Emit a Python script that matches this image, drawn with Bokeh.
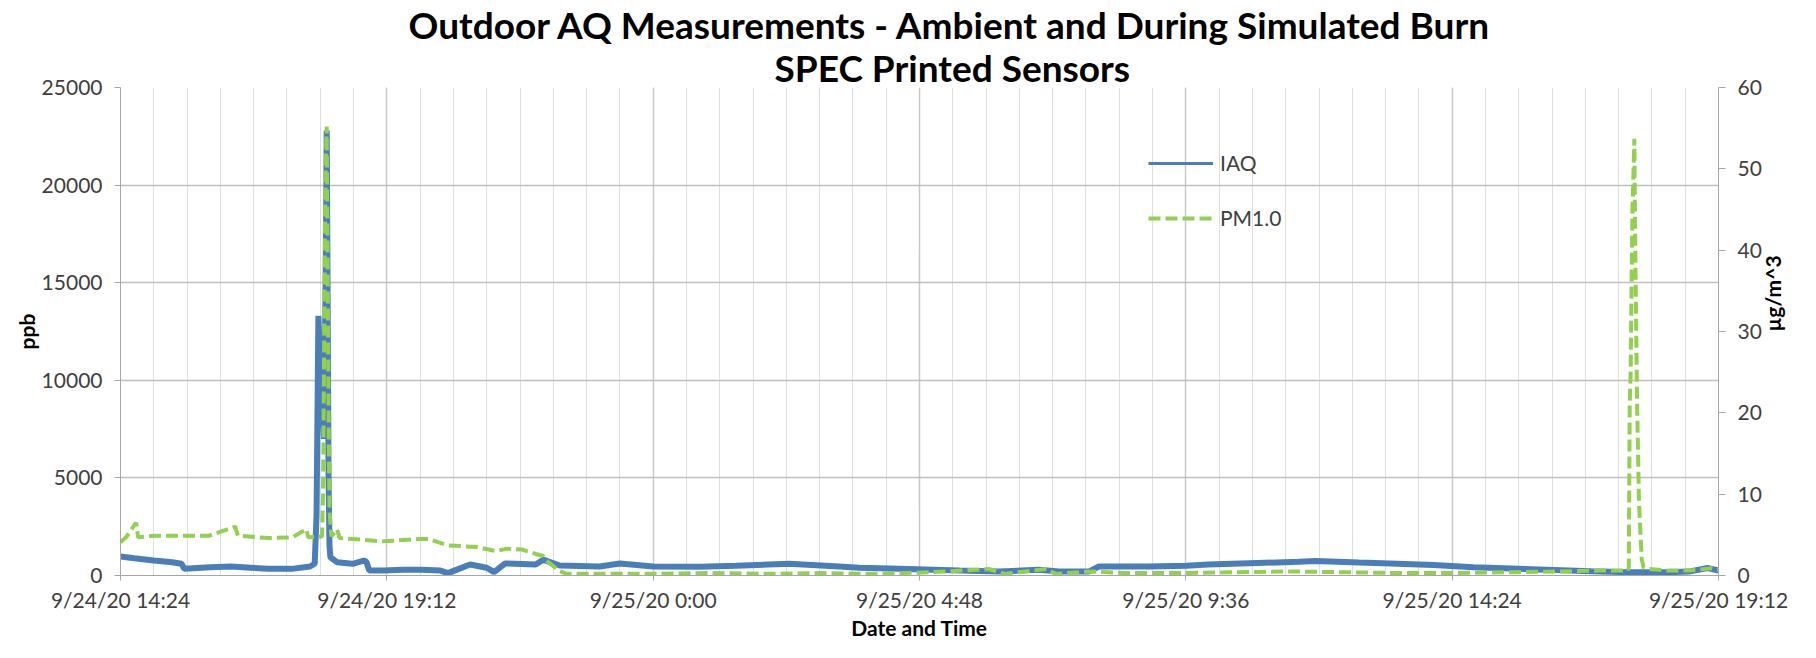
import math
import pandas as pd
from bokeh.plotting import figure
from bokeh.models import (Range1d, LinearAxis, FixedTicker, Legend,
                          LegendItem, Title)
from bokeh.embed import file_html
from bokeh.resources import INLINE

# IAQ sensor, ppb (left axis)
iaq_time = [
    "9/24/20 14:24", "9/24/20 14:39", "9/24/20 15:00", "9/24/20 15:20",
    "9/24/20 15:30", "9/24/20 15:33", "9/24/20 16:01", "9/24/20 16:23",
    "9/24/20 16:45", "9/24/20 17:04", "9/24/20 17:29", "9/24/20 17:49",
    "9/24/20 17:54", "9/24/20 17:56", "9/24/20 17:58", "9/24/20 18:00",
    "9/24/20 18:02", "9/24/20 18:04", "9/24/20 18:06", "9/24/20 18:07",
    "9/24/20 18:08", "9/24/20 18:09", "9/24/20 18:10", "9/24/20 18:11",
    "9/24/20 18:18", "9/24/20 18:35", "9/24/20 18:47", "9/24/20 18:50",
    "9/24/20 18:53", "9/24/20 19:08", "9/24/20 19:30", "9/24/20 19:49",
    "9/24/20 20:10", "9/24/20 20:18", "9/24/20 20:30", "9/24/20 20:42",
    "9/24/20 21:00", "9/24/20 21:08", "9/24/20 21:20", "9/24/20 21:53",
    "9/24/20 22:01", "9/24/20 22:19", "9/24/20 23:02", "9/24/20 23:24",
    "9/25/20 0:00", "9/25/20 0:50", "9/25/20 1:30", "9/25/20 2:27",
    "9/25/20 3:21", "9/25/20 3:43", "9/25/20 4:26", "9/25/20 5:31",
    "9/25/20 6:14", "9/25/20 6:57", "9/25/20 7:19", "9/25/20 7:51",
    "9/25/20 8:02", "9/25/20 8:56", "9/25/20 9:37", "9/25/20 10:00",
    "9/25/20 10:53", "9/25/20 11:38", "9/25/20 11:57", "9/25/20 12:43",
    "9/25/20 13:01", "9/25/20 14:04", "9/25/20 14:47", "9/25/20 15:50",
    "9/25/20 16:54", "9/25/20 17:36", "9/25/20 18:18", "9/25/20 18:40",
    "9/25/20 19:00", "9/25/20 19:12",
]
iaq_ppb = [
    970, 880, 765, 680,
    600, 340, 425, 460,
    400, 340, 340, 460,
    600, 3100, 13300, 10500,
    9000, 7000, 16000, 22800,
    14000, 5000, 1500, 935,
    680, 600, 765, 700,
    255, 255, 300, 290,
    250, 120, 340, 560,
    400, 170, 620, 560,
    810, 510, 460, 610,
    460, 450, 500, 600,
    460, 400, 350, 250,
    200, 300, 200, 200,
    460, 460, 500, 560,
    640, 700, 745, 660,
    640, 533, 426, 320,
    213, 170, 170, 200,
    384, 256,
]

# PM1.0 sensor, ug/m^3 (right axis)
pm_time = [
    "9/24/20 14:24", "9/24/20 14:30", "9/24/20 14:41", "9/24/20 14:43",
    "9/24/20 15:00", "9/24/20 15:30", "9/24/20 16:00", "9/24/20 16:28",
    "9/24/20 16:31", "9/24/20 17:04", "9/24/20 17:30", "9/24/20 17:45",
    "9/24/20 17:47", "9/24/20 18:02", "9/24/20 18:03", "9/24/20 18:04",
    "9/24/20 18:05", "9/24/20 18:06", "9/24/20 18:07", "9/24/20 18:08",
    "9/24/20 18:09", "9/24/20 18:10", "9/24/20 18:12", "9/24/20 18:18",
    "9/24/20 18:21", "9/24/20 19:08", "9/24/20 19:49", "9/24/20 19:57",
    "9/24/20 20:18", "9/24/20 20:50", "9/24/20 21:10", "9/24/20 21:22",
    "9/24/20 21:38", "9/24/20 21:53", "9/24/20 22:01", "9/24/20 22:05",
    "9/24/20 22:18", "9/24/20 22:26", "9/24/20 23:00", "9/25/20 0:00",
    "9/25/20 1:00", "9/25/20 2:00", "9/25/20 3:00", "9/25/20 4:00",
    "9/25/20 5:00", "9/25/20 6:03", "9/25/20 6:20", "9/25/20 7:05",
    "9/25/20 7:15", "9/25/20 7:51", "9/25/20 8:30", "9/25/20 9:36",
    "9/25/20 10:30", "9/25/20 11:30", "9/25/20 12:30", "9/25/20 13:30",
    "9/25/20 14:24", "9/25/20 15:30", "9/25/20 16:20", "9/25/20 17:00",
    "9/25/20 17:34", "9/25/20 17:35", "9/25/20 17:36", "9/25/20 17:37",
    "9/25/20 17:38", "9/25/20 17:39", "9/25/20 17:41", "9/25/20 17:42",
    "9/25/20 17:43", "9/25/20 17:44", "9/25/20 17:46", "9/25/20 17:49",
    "9/25/20 17:51", "9/25/20 17:56", "9/25/20 18:18", "9/25/20 18:40",
    "9/25/20 19:04", "9/25/20 19:12",
]
pm_ugm3 = [
    4.1, 4.7, 6.5, 4.7,
    4.9, 4.9, 4.9, 6.0,
    4.9, 4.6, 4.7, 5.7,
    4.7, 4.8, 10, 25,
    42, 51, 55.2, 38,
    20, 8, 4.8, 5.7,
    4.6, 4.2, 4.5, 4.5,
    3.7, 3.5, 3.0, 3.3,
    3.2, 2.65, 2.4, 1.8,
    0.6, 0.2, 0.2, 0.2,
    0.3, 0.2, 0.3, 0.2,
    0.4, 0.8, 0.2, 0.8,
    0.2, 0.5, 0.3, 0.3,
    0.4, 0.5, 0.4, 0.3,
    0.3, 0.4, 0.5, 0.6,
    0.6, 1.0, 21, 25,
    36, 45, 53.7, 40,
    30, 21, 9, 2,
    1.0, 0.8, 0.6, 0.6,
    0.9, 0.7,
]

x_tick_labels = ["9/24/20 14:24", "9/24/20 19:12", "9/25/20 0:00",
                 "9/25/20 4:48", "9/25/20 9:36", "9/25/20 14:24",
                 "9/25/20 19:12"]
ppb_ticks = [0, 5000, 10000, 15000, 20000, 25000]
ug_ticks = [0, 10, 20, 30, 40, 50, 60]

BLUE = "#4A7EBB"
GREEN = "#92D050"
FONT = "Lato"
TICK_COLOR = "#404040"


def to_minutes(times):
    t = pd.to_datetime(times, format="%m/%d/%y %H:%M")
    start = pd.to_datetime(x_tick_labels[0], format="%m/%d/%y %H:%M")
    return [int(v) for v in (t - start).total_seconds() / 60]


major = to_minutes(x_tick_labels)
minor = list(range(0, major[-1] + 1, 36))

p = figure(width=1800, height=642, title=None,
           x_range=Range1d(major[0], major[-1]),
           y_range=Range1d(ppb_ticks[0], ppb_ticks[-1]),
           output_backend="svg", toolbar_location=None,
           min_border_left=120, min_border_right=79,
           min_border_top=87, min_border_bottom=67)
p.outline_line_color = None
p.background_fill_color = "white"
p.border_fill_color = "white"

# right axis for PM
p.extra_y_ranges = {"ug": Range1d(ug_ticks[0], ug_ticks[-1])}

left = p.yaxis[0]
left.ticker = FixedTicker(ticks=ppb_ticks)
left.axis_label = "ppb"

right = LinearAxis(y_range_name="ug", ticker=FixedTicker(ticks=ug_ticks),
                   axis_label="µg/m^3")
p.add_layout(right, "right")

xax = p.xaxis[0]
xax.ticker = FixedTicker(ticks=major, minor_ticks=minor)
xax.major_label_overrides = {m: lab for m, lab in zip(major, x_tick_labels)}
xax.axis_label = "Date and Time"

for ax in (left, right, xax):
    ax.axis_line_color = "#A6A6A6"
    ax.major_tick_line_color = "#A6A6A6"
    ax.major_tick_in = 0
    ax.major_tick_out = 6
    ax.minor_tick_in = 0
    ax.minor_tick_out = 0
    ax.major_label_text_font = FONT
    ax.major_label_text_font_size = "21px"
    ax.major_label_text_color = TICK_COLOR
    ax.axis_label_text_font = FONT
    ax.axis_label_text_font_size = "21px"
    ax.axis_label_text_font_style = "bold"
    ax.axis_label_text_color = "black"

left.major_label_standoff = 12
left.axis_label_standoff = 0
right.major_tick_out = 7
right.major_label_standoff = 12
right.axis_label_standoff = 8
right.axis_label_orientation = math.pi / 2
xax.major_tick_out = 5
xax.major_label_standoff = 6
xax.axis_label_standoff = 0

p.xgrid.grid_line_color = "#C8C8C8"
p.xgrid.minor_grid_line_color = "#DEDEDE"
p.ygrid.grid_line_color = "#BFBFBF"
p.xgrid.grid_line_width = 1.5
p.ygrid.grid_line_width = 1.5

p.line(to_minutes(iaq_time), iaq_ppb, line_color=BLUE, line_width=6)
p.line(to_minutes(pm_time), pm_ugm3, y_range_name="ug", line_color=GREEN,
       line_width=4, line_dash="12 5")

# thinner copies for the legend keys, kept outside the visible ranges
key_iaq = p.line([-100, -50], [-1000, -1000], line_color=BLUE, line_width=3)
key_pm = p.line([-100, -50], [-1000, -1000], line_color=GREEN, line_width=4,
                line_dash="12 5")

legend = Legend(items=[LegendItem(label="IAQ", renderers=[key_iaq]),
                       LegendItem(label="PM1.0", renderers=[key_pm])],
                location=(1028, 345), orientation="vertical")
legend.background_fill_alpha = 0
legend.border_line_color = None
legend.padding = 0
legend.margin = 0
legend.glyph_width = 65
legend.glyph_height = 20
legend.spacing = 30
legend.label_standoff = 7
legend.label_text_font = FONT
legend.label_text_font_size = "21px"
legend.label_text_color = TICK_COLOR
p.add_layout(legend)

# two title lines, left edges placed to sit centred over the chart area
for line, shift in [("SPEC Printed Sensors", 654),
                    ("Outdoor AQ Measurements - Ambient and During Simulated Burn", 288)]:
    p.add_layout(Title(text=line, align="left", offset=shift,
                       text_font=FONT, text_font_size="37px",
                       text_font_style="bold", text_color="black",
                       standoff=-4), "above")

open("out.html", "w").write(file_html(p, INLINE))
